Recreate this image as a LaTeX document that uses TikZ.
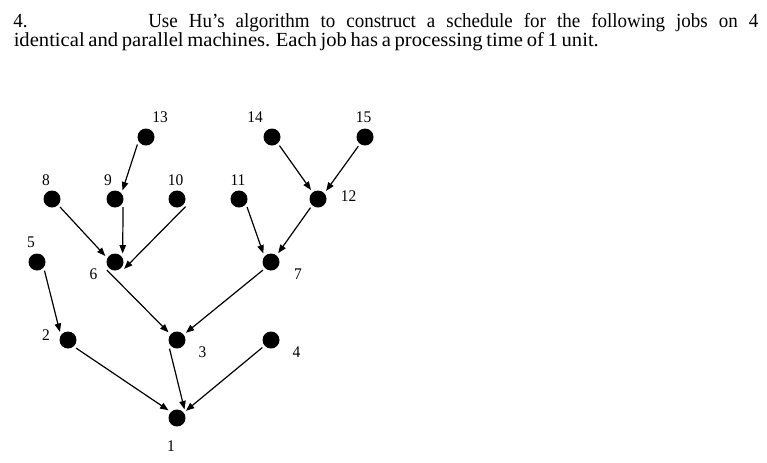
\documentclass[tikz,border=0pt]{standalone}
\usepackage{fontspec}
\setmainfont{Liberation Serif}[FakeStretch=0.95]
\usepackage{graphicx}
\usetikzlibrary{arrows.meta}
\begin{document}
\begin{tikzpicture}[x=0.75pt,y=-0.75pt,
  job/.style={circle,fill=black,inner sep=0pt,minimum size=12.75pt,outer sep=2.2pt},
  lab/.style={inner sep=0pt,font=\fontsize{12.2}{14}\selectfont},
  arr/.style={line width=0.9pt,-{Triangle[length=6.3pt,width=4.8pt]}},
  txt/.style={inner sep=0pt,anchor=base west,font=\fontsize{15}{18}\selectfont}]
\useasboundingbox (0,0) rectangle (767,462);
% text
\node[txt] (num) at (13,27) {4.};
\node[txt] (line1) at (148,27) {\makebox[457.5pt][s]{Use Hu’s algorithm to construct a schedule for the following jobs on 4}};
\node[txt] (line2) at (13.5,46.5) {\resizebox{438.75pt}{\height}{\spaceskip=0.17em\relax identical and parallel machines. Each job has a processing time of 1 unit.}};
% jobs
\node[job] (n13) at (146,137) {};
\node[job] (n14) at (272,137) {};
\node[job] (n15) at (365,137) {};
\node[job] (n8) at (52,199) {};
\node[job] (n9) at (115,199) {};
\node[job] (n10) at (177,199) {};
\node[job] (n11) at (239,199) {};
\node[job] (n12) at (318,199) {};
\node[job] (n5) at (37,262) {};
\node[job] (n6) at (115,262) {};
\node[job] (n7) at (271,262) {};
\node[job] (n2) at (68,340) {};
\node[job] (n3) at (177,340) {};
\node[job] (n4) at (271,340) {};
\node[job] (n1) at (177,418) {};
% labels
\node[lab] (t13) at (160,117.5) {13};
\node[lab] (t14) at (255,117.5) {14};
\node[lab] (t15) at (363.5,117.5) {15};
\node[lab] (t8) at (46,180.5) {8};
\node[lab] (t9) at (108,180.5) {9};
\node[lab] (t10) at (175.5,180.5) {10};
\node[lab] (t11) at (238,180.5) {11};
\node[lab] (t12) at (348.5,196.5) {12};
\node[lab] (t5) at (31,242.5) {5};
\node[lab] (t6) at (93.5,274) {6};
\node[lab] (t7) at (298,274) {7};
\node[lab] (t2) at (46,335.5) {2};
\node[lab] (t3) at (202.5,352.5) {3};
\node[lab] (t4) at (296.5,352.5) {4};
\node[lab] (t1) at (171,446.5) {1};
% arrows
\draw[arr] (n13.221) -- (n9.49);
\draw[arr] (n8.315) -- (n6.148);
\draw[arr] (n9.315) -- (n6.48);
\draw[arr] (n10.318) -- (n6.323);
\draw[arr] (n14.311) -- (n12.128);
\draw[arr] (n15.234) -- (n12.45);
\draw[arr] (n11.315) -- (n7.132);
\draw[arr] (n12.229) -- (n7.51);
\draw[arr] (n5.311) -- (n2.135);
\draw[arr] (n6.225) -- (n3.138);
\draw[arr] (n7.225) -- (n3.39);
\draw[arr] (n2.315) -- (n1.138);
\draw[arr] (n3.229) -- (n1.49);
\draw[arr] (n4.221) -- (n1.39);
\end{tikzpicture}
\end{document}
